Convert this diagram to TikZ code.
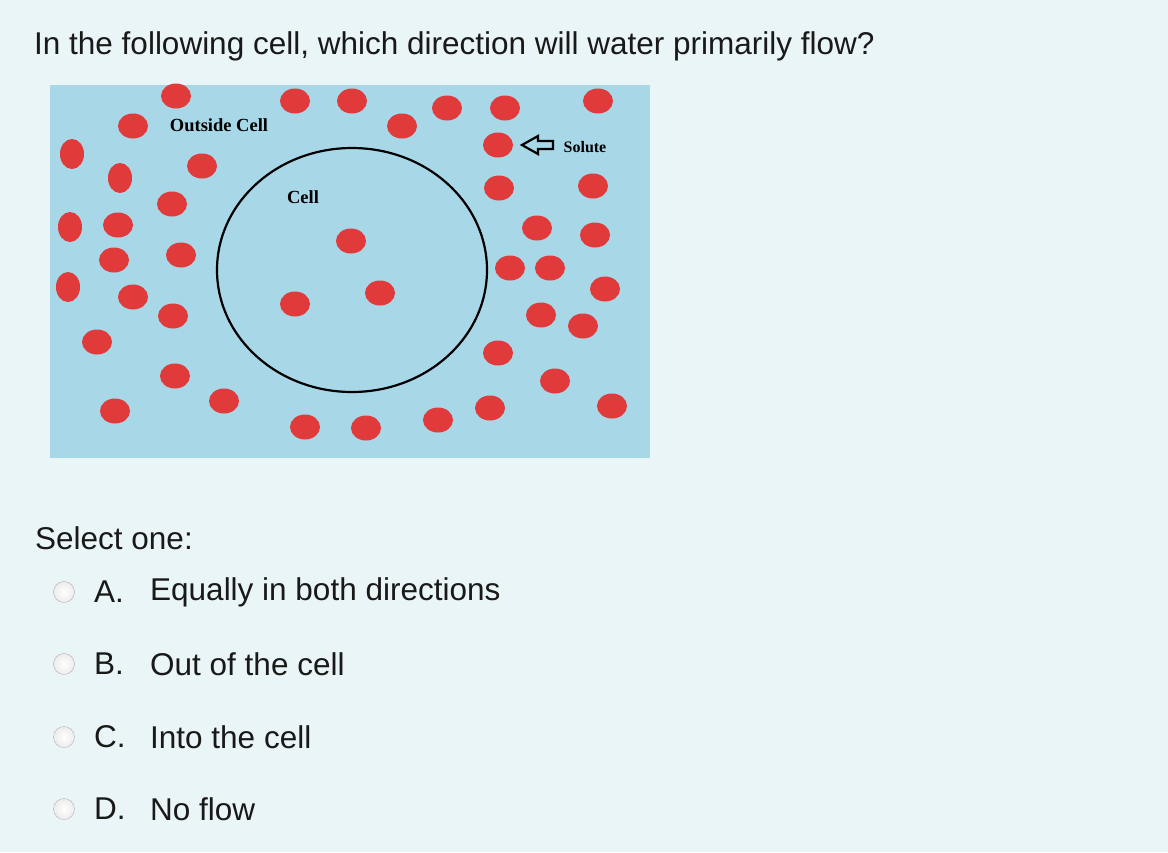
\documentclass[tikz,border=0pt]{standalone}
\usepackage{fontspec}
\setmainfont{Liberation Sans}
\newfontfamily\serifb{Liberation Serif}
\begin{document}
\begin{tikzpicture}[x=1pt,y=-1pt,
  dot/.style={fill=dotred},
  radio/.style={circle,draw=gray!60,minimum size=21pt,inner sep=0pt,shading=radial,inner color=white,outer color=gray!15},
  lbl/.style={anchor=west,font=\fontsize{31.5}{36}\selectfont,text=black!90},
  small/.style={font=\serifb\bfseries\fontsize{18.5}{21}\selectfont}]
\definecolor{bgc}{HTML}{EAF5F8}
\definecolor{cellblue}{HTML}{A8D7E8}
\definecolor{dotred}{HTML}{E03A3A}
\useasboundingbox (0,0) rectangle (1168,852);
\fill[bgc] (0,0) rectangle (1168,852);
\node[anchor=west,font=\fontsize{31.5}{36}\selectfont,text=black!90,inner sep=0pt] (q) at (34,46) {In the following cell, which direction will water primarily flow?};
\fill[cellblue] (50,85) rectangle (650,458);
\foreach \x/\y in {176/96,295/101,352/101,447/108,505/108,598/101,133/126,402/126,498/145,202/166,172/204,499/188,593/186,118/225,537/228,595/235,114/260,181/255,510/268,550/268,133/297,173/316,605/289,295/304,380/293,351/241,541/315,583/326,97/342,498/353,175/376,555/381,115/411,224/401,305/427,366/428,438/420,490/408,612/406}
  \fill[dot] (\x,\y) ellipse (15pt and 12.5pt);
\foreach \x/\y in {72/154,120/178,70/227,68/287}
  \fill[dot] (\x,\y) ellipse (12pt and 15pt);
\draw[line width=2.2pt] (352,270) ellipse (135pt and 122pt);
\node[small] (oc) at (219,125) {Outside Cell};
\node[small] (c) at (303,197) {Cell};
\node[small,font=\serifb\bfseries\fontsize{16}{18}\selectfont] (s) at (585,147) {Solute};
\draw[line width=2.2pt,line join=miter] (553,141) -- (538,141) -- (538,136) -- (522,145) -- (538,154) -- (538,149) -- (553,149) -- cycle;
\node[lbl,inner sep=0pt] (sel) at (35,538) {Select one:};
\foreach \y/\l/\t in {592/A./Equally in both directions,664/B./Out of the cell,737/C./Into the cell,809/D./No flow}{
  \node[radio] (r\l) at (64,\y) {};
  \node[lbl,inner sep=0pt] (l\l) at (94,\y) {\l};
  \node[lbl,inner sep=0pt] (t\l) at (150,\y) {\t};
}
\end{tikzpicture}
\end{document}
